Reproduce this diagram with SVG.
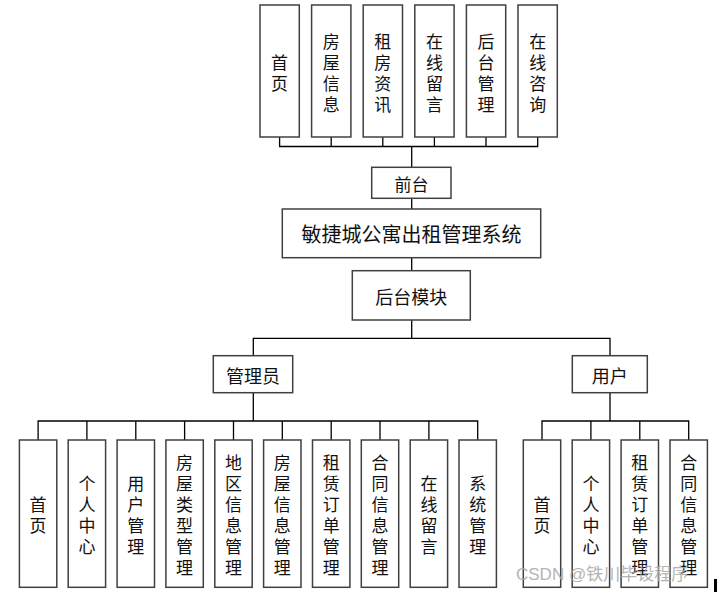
<svg xmlns="http://www.w3.org/2000/svg" width="722" height="592" viewBox="0 0 722 592">
<style>
.box{fill:#fff;stroke:#404040;stroke-width:1.5}
.t{font-family:"Noto Sans CJK SC","Liberation Sans",sans-serif;font-size:17px;fill:#111;text-anchor:middle;dominant-baseline:central}
.tt{font-size:20px}
.c{stroke:#000;stroke-width:1.3;fill:none}
.wm{font-family:"Liberation Sans","Noto Sans CJK SC",sans-serif;font-size:17px;fill:#a8a8a8}
</style>
<rect width="722" height="592" fill="#fff"/>
<g id="connectors">
<path class="c" d="M279.6 137V146.5H537.7V137M331.2 137V146.5M382.8 137V146.5M434.4 137V146.5M486 137V146.5M411.7 146.5V167.3"/>
<path class="c" d="M411.7 198.3V209M411.7 257.7V270.7M411.7 320V338.3M253.3 355.7V338.3H610V355.7"/>
<path class="c" d="M253.3 392.7V421M610 392.7V421" stroke-width="2"/>
<path class="c" d="M38.1 440V421H477.7V440M86.9 421V440M135.8 421V440M184.6 421V440M233.5 421V440M282.3 421V440M331.2 421V440M380 421V440M428.9 421V440"/>
<path class="c" d="M542 440V421H688.7V440M590.9 421V440M639.8 421V440"/>
</g>
<g id="top-home"><rect class="box" x="260" y="5" width="39.3" height="132"/><text class="t" x="279.6 279.6" y="61 82">首页</text></g>
<g id="top-house"><rect class="box" x="311.6" y="5" width="39.3" height="132"/><text class="t" x="331.2 331.2 331.2 331.2" y="40 61 82 103">房屋信息</text></g>
<g id="top-news"><rect class="box" x="363.2" y="5" width="39.3" height="132"/><text class="t" x="382.8 382.8 382.8 382.8" y="40 61 82 103">租房资讯</text></g>
<g id="top-msg"><rect class="box" x="414.8" y="5" width="39.3" height="132"/><text class="t" x="434.4 434.4 434.4 434.4" y="40 61 82 103">在线留言</text></g>
<g id="top-admin"><rect class="box" x="466.4" y="5" width="39.3" height="132"/><text class="t" x="486 486 486 486" y="40 61 82 103">后台管理</text></g>
<g id="top-consult"><rect class="box" x="518" y="5" width="39.3" height="132"/><text class="t" x="537.7 537.7 537.7 537.7" y="40 61 82 103">在线咨询</text></g>
<g id="front"><rect class="box" x="371.7" y="167.3" width="79.3" height="31"/><text class="t" x="411.4" y="183">前台</text></g>
<g id="system"><rect class="box" x="282.3" y="209" width="258.4" height="48.7"/><text class="t tt" x="411.5" y="233.5">敏捷城公寓出租管理系统</text></g>
<g id="backend"><rect class="box" x="352.3" y="270.7" width="118" height="49.3"/><text class="t" x="411.3" y="295.5" style="font-size:18px">后台模块</text></g>
<g id="admin"><rect class="box" x="213.3" y="355.7" width="79.4" height="37"/><text class="t" x="253" y="374.5" style="font-size:18px">管理员</text></g>
<g id="user"><rect class="box" x="572.3" y="355.7" width="75" height="37"/><text class="t" x="609.8" y="374.5" style="font-size:18px">用户</text></g>
<g id="a-home"><rect class="box" x="19.4" y="440" width="37.4" height="147.3"/><text class="t" x="38.1 38.1" y="503 524">首页</text></g>
<g id="a-center"><rect class="box" x="68.2" y="440" width="37.4" height="147.3"/><text class="t" x="86.9 86.9 86.9 86.9" y="482 503 524 545">个人中心</text></g>
<g id="a-user"><rect class="box" x="117.1" y="440" width="37.4" height="147.3"/><text class="t" x="135.8 135.8 135.8 135.8" y="482 503 524 545">用户管理</text></g>
<g id="a-type"><rect class="box" x="165.9" y="440" width="37.4" height="147.3"/><text class="t" x="184.6 184.6 184.6 184.6 184.6 184.6" y="461 482 503 524 545 566">房屋类型管理</text></g>
<g id="a-area"><rect class="box" x="214.8" y="440" width="37.4" height="147.3"/><text class="t" x="233.5 233.5 233.5 233.5 233.5 233.5" y="461 482 503 524 545 566">地区信息管理</text></g>
<g id="a-house"><rect class="box" x="263.6" y="440" width="37.4" height="147.3"/><text class="t" x="282.3 282.3 282.3 282.3 282.3 282.3" y="461 482 503 524 545 566">房屋信息管理</text></g>
<g id="a-order"><rect class="box" x="312.5" y="440" width="37.4" height="147.3"/><text class="t" x="331.2 331.2 331.2 331.2 331.2 331.2" y="461 482 503 524 545 566">租赁订单管理</text></g>
<g id="a-contract"><rect class="box" x="361.3" y="440" width="37.4" height="147.3"/><text class="t" x="380 380 380 380 380 380" y="461 482 503 524 545 566">合同信息管理</text></g>
<g id="a-msg"><rect class="box" x="410.2" y="440" width="37.4" height="147.3"/><text class="t" x="428.9 428.9 428.9 428.9" y="482 503 524 545">在线留言</text></g>
<g id="a-sys"><rect class="box" x="459" y="440" width="37.4" height="147.3"/><text class="t" x="477.7 477.7 477.7 477.7" y="482 503 524 545">系统管理</text></g>
<g id="u-home"><rect class="box" x="523.3" y="440" width="37.4" height="147.3"/><text class="t" x="542 542" y="503 524">首页</text></g>
<g id="u-center"><rect class="box" x="572.2" y="440" width="37.4" height="147.3"/><text class="t" x="590.9 590.9 590.9 590.9" y="482 503 524 545">个人中心</text></g>
<g id="u-order"><rect class="box" x="621.1" y="440" width="37.4" height="147.3"/><text class="t" x="639.8 639.8 639.8 639.8 639.8 639.8" y="461 482 503 524 545 566">租赁订单管理</text></g>
<g id="u-contract"><rect class="box" x="670" y="440" width="37.4" height="147.3"/><text class="t" x="688.7 688.7 688.7 688.7 688.7 688.7" y="461 482 503 524 545 566">合同信息管理</text></g>
<text class="wm" x="516" y="580" opacity="0.85">CSDN @铁川毕设程序</text>
<rect x="714" y="579" width="3" height="13" fill="#000"/>
</svg>
